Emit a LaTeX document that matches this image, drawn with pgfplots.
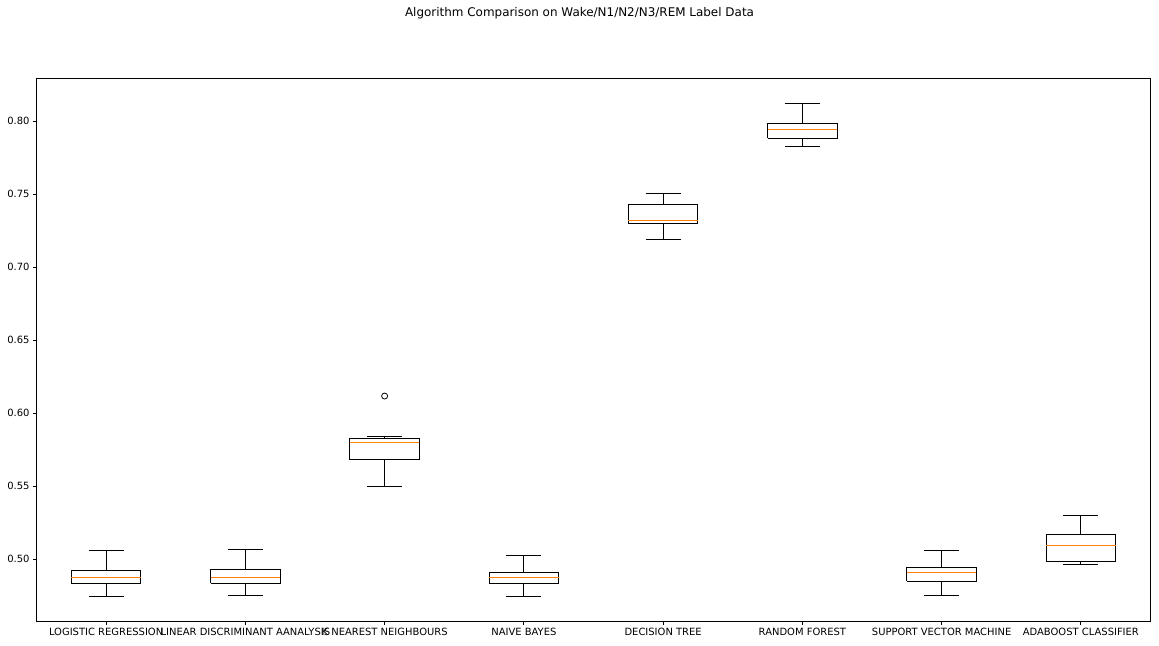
\documentclass[border=0pt]{standalone}
\usepackage{fontspec}
\setmainfont{DejaVu Sans}
\usepackage{pgfplots}
\pgfplotsset{compat=1.18}
\definecolor{mplorange}{HTML}{FF7F0E}
\pgfplotsset{
  bx/.style={black, line width=1bp, mark=none, line join=miter},
  md/.style={mplorange, line width=1bp, mark=none},
}
\begin{document}
\begin{tikzpicture}
\path[use as bounding box] (0,0) rectangle (1159bp,646bp);
\node at (579.5bp,633bp) {\fontsize{12}{14}\selectfont Algorithm Comparison on Wake/N1/N2/N3/REM Label Data};
\begin{axis}[
  at={(36.5bp,25bp)}, anchor=south west,
  scale only axis, width=1114bp, height=543bp,
  xmin=0.5, xmax=8.5, ymin=0.4575, ymax=0.8295,
  unbounded coords=jump,
  xtick={1,2,3,4,5,6,7,8},
  xticklabels={LOGISTIC REGRESSION, LINEAR DISCRIMINANT AANALYSIS, K NEAREST NEIGHBOURS, NAIVE BAYES, DECISION TREE, RANDOM FOREST, SUPPORT VECTOR MACHINE, ADABOOST CLASSIFIER},
  ytick={0.50,0.55,0.60,0.65,0.70,0.75,0.80},
  yticklabel style={/pgf/number format/.cd, fixed, fixed zerofill, precision=2, assume math mode=true},
  ticklabel style={font=\fontsize{10}{12}\selectfont},
  xtick pos=lower, ytick pos=left,
  tick align=outside, major tick length=3.5bp,
  tick style={black, line width=0.8bp},
  axis line style={black, line width=0.8bp},
]
% 1 LOGISTIC REGRESSION: lw .4740 q1 .4834 med .4875 q3 .4923 uw .5055
\addplot[bx] coordinates {(0.75,0.4834)(1.25,0.4834)(1.25,0.4923)(0.75,0.4923)(0.75,0.4834)};
\addplot[bx] coordinates {(1,0.4923)(1,0.5055)(1,nan)(0.875,0.5055)(1.125,0.5055)(1,nan)(1,0.4834)(1,0.4740)(1,nan)(0.875,0.4740)(1.125,0.4740)};
\addplot[md] coordinates {(0.75,0.4875)(1.25,0.4875)};
% 2 LDA: .4747 .4834 .4875 .4929 .5062
\addplot[bx] coordinates {(1.75,0.4834)(2.25,0.4834)(2.25,0.4929)(1.75,0.4929)(1.75,0.4834)};
\addplot[bx] coordinates {(2,0.4929)(2,0.5062)(2,nan)(1.875,0.5062)(2.125,0.5062)(2,nan)(2,0.4834)(2,0.4747)(2,nan)(1.875,0.4747)(2.125,0.4747)};
\addplot[md] coordinates {(1.75,0.4875)(2.25,0.4875)};
% 3 KNN: .5498 .5678 .5795 .5827 .5840, outlier .6116
\addplot[bx] coordinates {(2.75,0.5678)(3.25,0.5678)(3.25,0.5827)(2.75,0.5827)(2.75,0.5678)};
\addplot[bx] coordinates {(3,0.5827)(3,0.5840)(3,nan)(2.875,0.5840)(3.125,0.5840)(3,nan)(3,0.5678)(3,0.5498)(3,nan)(2.875,0.5498)(3.125,0.5498)};
\addplot[md] coordinates {(2.75,0.5795)(3.25,0.5795)};
\addplot[only marks, mark=o, mark size=3bp, mark options={black, line width=0.8bp}] coordinates {(3,0.6116)};
% 4 NAIVE BAYES: .4744 .4829 .4875 .4909 .5025
\addplot[bx] coordinates {(3.75,0.4829)(4.25,0.4829)(4.25,0.4909)(3.75,0.4909)(3.75,0.4829)};
\addplot[bx] coordinates {(4,0.4909)(4,0.5025)(4,nan)(3.875,0.5025)(4.125,0.5025)(4,nan)(4,0.4829)(4,0.4744)(4,nan)(3.875,0.4744)(4.125,0.4744)};
\addplot[md] coordinates {(3.75,0.4875)(4.25,0.4875)};
% 5 DECISION TREE: .7190 .7299 .7322 .7429 .7505
\addplot[bx] coordinates {(4.75,0.7299)(5.25,0.7299)(5.25,0.7429)(4.75,0.7429)(4.75,0.7299)};
\addplot[bx] coordinates {(5,0.7429)(5,0.7505)(5,nan)(4.875,0.7505)(5.125,0.7505)(5,nan)(5,0.7299)(5,0.7190)(5,nan)(4.875,0.7190)(5.125,0.7190)};
\addplot[md] coordinates {(4.75,0.7322)(5.25,0.7322)};
% 6 RANDOM FOREST: .7827 .7881 .7945 .7984 .8121
\addplot[bx] coordinates {(5.75,0.7881)(6.25,0.7881)(6.25,0.7984)(5.75,0.7984)(5.75,0.7881)};
\addplot[bx] coordinates {(6,0.7984)(6,0.8121)(6,nan)(5.875,0.8121)(6.125,0.8121)(6,nan)(6,0.7881)(6,0.7827)(6,nan)(5.875,0.7827)(6.125,0.7827)};
\addplot[md] coordinates {(5.75,0.7945)(6.25,0.7945)};
% 7 SVM: .4751 .4849 .4904 .4943 .5059
\addplot[bx] coordinates {(6.75,0.4849)(7.25,0.4849)(7.25,0.4943)(6.75,0.4943)(6.75,0.4849)};
\addplot[bx] coordinates {(7,0.4943)(7,0.5059)(7,nan)(6.875,0.5059)(7.125,0.5059)(7,nan)(7,0.4849)(7,0.4751)(7,nan)(6.875,0.4751)(7.125,0.4751)};
\addplot[md] coordinates {(6.75,0.4904)(7.25,0.4904)};
% 8 ADABOOST: .4959 .4984 .5089 .5171 .5295
\addplot[bx] coordinates {(7.75,0.4984)(8.25,0.4984)(8.25,0.5171)(7.75,0.5171)(7.75,0.4984)};
\addplot[bx] coordinates {(8,0.5171)(8,0.5295)(8,nan)(7.875,0.5295)(8.125,0.5295)(8,nan)(8,0.4984)(8,0.4959)(8,nan)(7.875,0.4959)(8.125,0.4959)};
\addplot[md] coordinates {(7.75,0.5089)(8.25,0.5089)};
\end{axis}
\end{tikzpicture}
\end{document}
